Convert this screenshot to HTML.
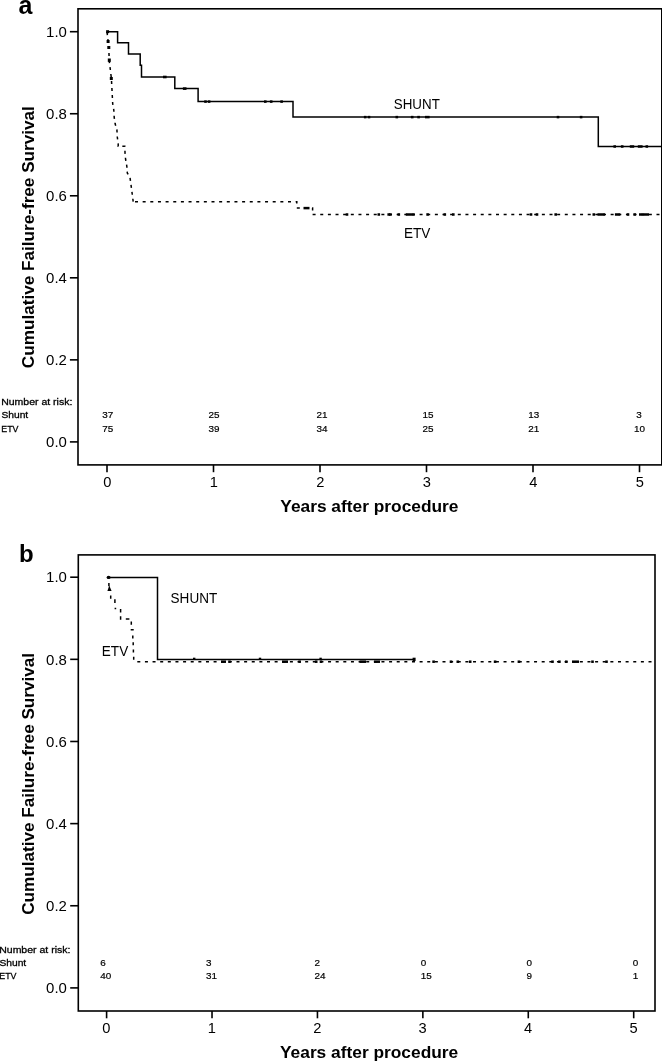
<!DOCTYPE html>
<html lang="en"><head><meta charset="utf-8"><title>Cumulative failure-free survival: shunt vs ETV</title>
<style>html,body{margin:0;padding:0;background:#fff}svg{display:block}text{font-family:'Liberation Sans', Arial, Helvetica, sans-serif;fill:#000}.b{font-weight:bold}.ln{fill:none;stroke:#000}</style>
</head><body>
<svg width="662" height="1061" viewBox="0 0 662 1061">
<rect x="0" y="0" width="662" height="1061" fill="#fff"/>
<g>
<text class="b" x="18.6" y="14.2" font-size="25">a</text>
<rect class="ln" x="78" y="8.8" width="583.8" height="456.1" stroke-width="1.6"/>
<line class="ln" x1="69.9" y1="31.7" x2="78" y2="31.7" stroke-width="1.6"/>
<text x="66.9" y="36.9" font-size="14.67" text-anchor="end" textLength="20.8" lengthAdjust="spacingAndGlyphs">1.0</text>
<line class="ln" x1="69.9" y1="113.74" x2="78" y2="113.74" stroke-width="1.6"/>
<text x="66.9" y="118.94" font-size="14.67" text-anchor="end" textLength="20.8" lengthAdjust="spacingAndGlyphs">0.8</text>
<line class="ln" x1="69.9" y1="195.78" x2="78" y2="195.78" stroke-width="1.6"/>
<text x="66.9" y="200.98" font-size="14.67" text-anchor="end" textLength="20.8" lengthAdjust="spacingAndGlyphs">0.6</text>
<line class="ln" x1="69.9" y1="277.82" x2="78" y2="277.82" stroke-width="1.6"/>
<text x="66.9" y="283.02" font-size="14.67" text-anchor="end" textLength="20.8" lengthAdjust="spacingAndGlyphs">0.4</text>
<line class="ln" x1="69.9" y1="359.86" x2="78" y2="359.86" stroke-width="1.6"/>
<text x="66.9" y="365.06" font-size="14.67" text-anchor="end" textLength="20.8" lengthAdjust="spacingAndGlyphs">0.2</text>
<line class="ln" x1="69.9" y1="441.9" x2="78" y2="441.9" stroke-width="1.6"/>
<text x="66.9" y="447.1" font-size="14.67" text-anchor="end" textLength="20.8" lengthAdjust="spacingAndGlyphs">0.0</text>
<line class="ln" x1="107" y1="464.9" x2="107" y2="472.2" stroke-width="1.6"/>
<text x="107.3" y="487.4" font-size="14.67" text-anchor="middle">0</text>
<line class="ln" x1="213.5" y1="464.9" x2="213.5" y2="472.2" stroke-width="1.6"/>
<text x="213.8" y="487.4" font-size="14.67" text-anchor="middle">1</text>
<line class="ln" x1="320" y1="464.9" x2="320" y2="472.2" stroke-width="1.6"/>
<text x="320.3" y="487.4" font-size="14.67" text-anchor="middle">2</text>
<line class="ln" x1="426.5" y1="464.9" x2="426.5" y2="472.2" stroke-width="1.6"/>
<text x="426.8" y="487.4" font-size="14.67" text-anchor="middle">3</text>
<line class="ln" x1="533" y1="464.9" x2="533" y2="472.2" stroke-width="1.6"/>
<text x="533.3" y="487.4" font-size="14.67" text-anchor="middle">4</text>
<line class="ln" x1="639.5" y1="464.9" x2="639.5" y2="472.2" stroke-width="1.6"/>
<text x="639.8" y="487.4" font-size="14.67" text-anchor="middle">5</text>
<text class="b" x="369.4" y="512.2" font-size="17.33" text-anchor="middle">Years after procedure</text>
<text class="b" transform="translate(34.3 237.15) rotate(-90)" font-size="17.15" text-anchor="middle">Cumulative Failure-free Survival</text>
<text x="1.2" y="404.8" font-size="9.7" stroke="#000" stroke-width="0.3" lengthAdjust="spacingAndGlyphs" textLength="71.2">Number at risk:</text>
<text x="1.4" y="418.3" font-size="9.7" stroke="#000" stroke-width="0.3" lengthAdjust="spacingAndGlyphs" textLength="26.8">Shunt</text>
<text x="1.3" y="431.6" font-size="9.7" stroke="#000" stroke-width="0.3" lengthAdjust="spacingAndGlyphs" textLength="17.2">ETV</text>
<text x="102.2" y="418.3" font-size="9.9" stroke="#000" stroke-width="0.2" lengthAdjust="spacingAndGlyphs" textLength="11">37</text>
<text x="102.2" y="431.6" font-size="9.9" stroke="#000" stroke-width="0.2" lengthAdjust="spacingAndGlyphs" textLength="11">75</text>
<text x="208.4" y="418.3" font-size="9.9" stroke="#000" stroke-width="0.2" lengthAdjust="spacingAndGlyphs" textLength="11">25</text>
<text x="208.4" y="431.6" font-size="9.9" stroke="#000" stroke-width="0.2" lengthAdjust="spacingAndGlyphs" textLength="11">39</text>
<text x="316.5" y="418.3" font-size="9.9" stroke="#000" stroke-width="0.2" lengthAdjust="spacingAndGlyphs" textLength="11">21</text>
<text x="316.5" y="431.6" font-size="9.9" stroke="#000" stroke-width="0.2" lengthAdjust="spacingAndGlyphs" textLength="11">34</text>
<text x="422.4" y="418.3" font-size="9.9" stroke="#000" stroke-width="0.2" lengthAdjust="spacingAndGlyphs" textLength="11">15</text>
<text x="422.4" y="431.6" font-size="9.9" stroke="#000" stroke-width="0.2" lengthAdjust="spacingAndGlyphs" textLength="11">25</text>
<text x="528.3" y="418.3" font-size="9.9" stroke="#000" stroke-width="0.2" lengthAdjust="spacingAndGlyphs" textLength="11">13</text>
<text x="528.3" y="431.6" font-size="9.9" stroke="#000" stroke-width="0.2" lengthAdjust="spacingAndGlyphs" textLength="11">21</text>
<text x="636.35" y="418.3" font-size="9.9" stroke="#000" stroke-width="0.2" lengthAdjust="spacingAndGlyphs" textLength="5.5">3</text>
<text x="634.1" y="431.6" font-size="9.9" stroke="#000" stroke-width="0.2" lengthAdjust="spacingAndGlyphs" textLength="11">10</text>
<path class="ln" d="M107 31.7 L117.6 31.7 L117.6 42.7 L128.5 42.7 L128.5 53.9 L140.2 53.9 L140.2 65.3 L141.5 65.3 L141.5 77 L174.8 77 L174.8 88.6 L198.1 88.6 L198.1 101.6 L293 101.6 L293 117.1 L598.3 117.1 L598.3 146.5 L661.5 146.5" stroke-width="1.5" stroke-linejoin="miter"/>
<rect x="106.1" y="30.2" width="3" height="3"/>
<rect x="163" y="75.7" width="3.6" height="2.6"/>
<rect x="182.9" y="87.3" width="3.6" height="2.6"/>
<rect x="204.2" y="100.35" width="2.6" height="2.5"/>
<rect x="207.8" y="100.35" width="2.6" height="2.5"/>
<rect x="264" y="100.35" width="2.6" height="2.5"/>
<rect x="269.9" y="100.35" width="2.6" height="2.5"/>
<rect x="280.3" y="100.35" width="2.6" height="2.5"/>
<rect x="363.9" y="115.85" width="2.6" height="2.5"/>
<rect x="367.7" y="115.85" width="2.6" height="2.5"/>
<rect x="395.5" y="115.85" width="2.6" height="2.5"/>
<rect x="410.9" y="115.85" width="2.6" height="2.5"/>
<rect x="417.3" y="115.85" width="2.6" height="2.5"/>
<rect x="425" y="115.85" width="4.6" height="2.5"/>
<rect x="556.7" y="115.85" width="2.6" height="2.5"/>
<rect x="579.8" y="115.85" width="2.6" height="2.5"/>
<rect x="613.4" y="145.25" width="2.6" height="2.5"/>
<rect x="620.9" y="145.25" width="2.6" height="2.5"/>
<rect x="629.8" y="145.25" width="4.4" height="2.5"/>
<rect x="637.8" y="145.25" width="4.8" height="2.5"/>
<rect x="645.5" y="145.25" width="2.6" height="2.5"/>
<path class="ln" d="M107 31.7 L108.1 41.3 L108.8 47.7 L109.2 60.4 L111.4 78.5 L112.7 103.6 L113.8 110 L114.2 117.3 L115.2 124 L116.9 129.5 L117.3 137 L118.2 144 L118.2 146.3 L124.8 146.3 L125 152.5 L125.6 159.5 L126.8 166 L127.3 173 L130 177.5 L131.7 190 L133.2 201.7" stroke-width="1.5" stroke-dasharray="3 4" stroke-dashoffset="-0.5"/>
<path class="ln" d="M135 201.7 H296.8 V208.1" stroke-width="1.5" stroke-dasharray="3 4.65"/>
<path class="ln" d="M296.8 208.1 H312.6 V214.5" stroke-width="1.5" stroke-dasharray="3 4.65"/>
<path class="ln" d="M312.6 214.5 H661" stroke-width="1.5" stroke-dasharray="3 4.642"/>
<rect x="106.6" y="40" width="3" height="3"/>
<rect x="107.3" y="46" width="3" height="3"/>
<rect x="107.8" y="58.5" width="3" height="3.4"/>
<rect x="109.8" y="77" width="3" height="3"/>
<rect x="303.5" y="206.85" width="6" height="2.5"/>
<rect x="345.7" y="213.25" width="2.6" height="2.5"/>
<rect x="377.5" y="213.25" width="2.6" height="2.5"/>
<rect x="387.4" y="213.25" width="2.6" height="2.5"/>
<rect x="389.1" y="213.25" width="2.6" height="2.5"/>
<rect x="397.5" y="213.25" width="2.6" height="2.5"/>
<rect x="405.8" y="213.25" width="8.9" height="2.5"/>
<rect x="426.3" y="213.25" width="2.6" height="2.5"/>
<rect x="443.5" y="213.25" width="2.6" height="2.5"/>
<rect x="452" y="213.25" width="2.6" height="2.5"/>
<rect x="529.7" y="213.25" width="2.6" height="2.5"/>
<rect x="535.7" y="213.25" width="2.6" height="2.5"/>
<rect x="554.4" y="213.25" width="2.6" height="2.5"/>
<rect x="592.5" y="213.25" width="2.6" height="2.5"/>
<rect x="597.5" y="213.25" width="7.5" height="2.5"/>
<rect x="614.9" y="213.25" width="5.4" height="2.5"/>
<rect x="626.7" y="213.25" width="2.6" height="2.5"/>
<rect x="633.4" y="213.25" width="2.6" height="2.5"/>
<rect x="639" y="213.25" width="10" height="2.5"/>
<text x="393.8" y="108.6" font-size="13.9" textLength="46" lengthAdjust="spacingAndGlyphs">SHUNT</text>
<text x="404" y="237.8" font-size="13.9" textLength="26.4" lengthAdjust="spacingAndGlyphs">ETV</text>
</g>
<g>
<text class="b" x="19.1" y="562.2" font-size="24">b</text>
<rect class="ln" x="78.3" y="554.9" width="576.7" height="456.1" stroke-width="1.6"/>
<line class="ln" x1="70.2" y1="577.2" x2="78.3" y2="577.2" stroke-width="1.6"/>
<text x="66.9" y="582.4" font-size="14.67" text-anchor="end" textLength="20.8" lengthAdjust="spacingAndGlyphs">1.0</text>
<line class="ln" x1="70.2" y1="659.34" x2="78.3" y2="659.34" stroke-width="1.6"/>
<text x="66.9" y="664.54" font-size="14.67" text-anchor="end" textLength="20.8" lengthAdjust="spacingAndGlyphs">0.8</text>
<line class="ln" x1="70.2" y1="741.48" x2="78.3" y2="741.48" stroke-width="1.6"/>
<text x="66.9" y="746.68" font-size="14.67" text-anchor="end" textLength="20.8" lengthAdjust="spacingAndGlyphs">0.6</text>
<line class="ln" x1="70.2" y1="823.62" x2="78.3" y2="823.62" stroke-width="1.6"/>
<text x="66.9" y="828.82" font-size="14.67" text-anchor="end" textLength="20.8" lengthAdjust="spacingAndGlyphs">0.4</text>
<line class="ln" x1="70.2" y1="905.76" x2="78.3" y2="905.76" stroke-width="1.6"/>
<text x="66.9" y="910.96" font-size="14.67" text-anchor="end" textLength="20.8" lengthAdjust="spacingAndGlyphs">0.2</text>
<line class="ln" x1="70.2" y1="987.9" x2="78.3" y2="987.9" stroke-width="1.6"/>
<text x="66.9" y="993.1" font-size="14.67" text-anchor="end" textLength="20.8" lengthAdjust="spacingAndGlyphs">0.0</text>
<line class="ln" x1="106.6" y1="1011" x2="106.6" y2="1018.3" stroke-width="1.6"/>
<text x="106.4" y="1032.8" font-size="14.67" text-anchor="middle">0</text>
<line class="ln" x1="212.02" y1="1011" x2="212.02" y2="1018.3" stroke-width="1.6"/>
<text x="211.82" y="1032.8" font-size="14.67" text-anchor="middle">1</text>
<line class="ln" x1="317.44" y1="1011" x2="317.44" y2="1018.3" stroke-width="1.6"/>
<text x="317.24" y="1032.8" font-size="14.67" text-anchor="middle">2</text>
<line class="ln" x1="422.86" y1="1011" x2="422.86" y2="1018.3" stroke-width="1.6"/>
<text x="422.66" y="1032.8" font-size="14.67" text-anchor="middle">3</text>
<line class="ln" x1="528.28" y1="1011" x2="528.28" y2="1018.3" stroke-width="1.6"/>
<text x="528.08" y="1032.8" font-size="14.67" text-anchor="middle">4</text>
<line class="ln" x1="633.7" y1="1011" x2="633.7" y2="1018.3" stroke-width="1.6"/>
<text x="633.5" y="1032.8" font-size="14.67" text-anchor="middle">5</text>
<text class="b" x="369.1" y="1058.3" font-size="17.33" text-anchor="middle">Years after procedure</text>
<text class="b" transform="translate(34.3 783.85) rotate(-90)" font-size="17.15" text-anchor="middle">Cumulative Failure-free Survival</text>
<text x="-0.8" y="953.2" font-size="9.7" stroke="#000" stroke-width="0.3" lengthAdjust="spacingAndGlyphs" textLength="71.2">Number at risk:</text>
<text x="-0.6" y="966.3" font-size="9.7" stroke="#000" stroke-width="0.3" lengthAdjust="spacingAndGlyphs" textLength="26.8">Shunt</text>
<text x="-0.7" y="978.5" font-size="9.7" stroke="#000" stroke-width="0.3" lengthAdjust="spacingAndGlyphs" textLength="17.2">ETV</text>
<text x="100.3" y="966.3" font-size="9.9" stroke="#000" stroke-width="0.2" lengthAdjust="spacingAndGlyphs" textLength="5.5">6</text>
<text x="100.3" y="978.5" font-size="9.9" stroke="#000" stroke-width="0.2" lengthAdjust="spacingAndGlyphs" textLength="11">40</text>
<text x="206.1" y="966.3" font-size="9.9" stroke="#000" stroke-width="0.2" lengthAdjust="spacingAndGlyphs" textLength="5.5">3</text>
<text x="206.1" y="978.5" font-size="9.9" stroke="#000" stroke-width="0.2" lengthAdjust="spacingAndGlyphs" textLength="11">31</text>
<text x="314.5" y="966.3" font-size="9.9" stroke="#000" stroke-width="0.2" lengthAdjust="spacingAndGlyphs" textLength="5.5">2</text>
<text x="314.5" y="978.5" font-size="9.9" stroke="#000" stroke-width="0.2" lengthAdjust="spacingAndGlyphs" textLength="11">24</text>
<text x="420.8" y="966.3" font-size="9.9" stroke="#000" stroke-width="0.2" lengthAdjust="spacingAndGlyphs" textLength="5.5">0</text>
<text x="420.8" y="978.5" font-size="9.9" stroke="#000" stroke-width="0.2" lengthAdjust="spacingAndGlyphs" textLength="11">15</text>
<text x="526.5" y="966.3" font-size="9.9" stroke="#000" stroke-width="0.2" lengthAdjust="spacingAndGlyphs" textLength="5.5">0</text>
<text x="526.5" y="978.5" font-size="9.9" stroke="#000" stroke-width="0.2" lengthAdjust="spacingAndGlyphs" textLength="5.5">9</text>
<text x="632.8" y="966.3" font-size="9.9" stroke="#000" stroke-width="0.2" lengthAdjust="spacingAndGlyphs" textLength="5.5">0</text>
<text x="632.8" y="978.5" font-size="9.9" stroke="#000" stroke-width="0.2" lengthAdjust="spacingAndGlyphs" textLength="5.5">1</text>
<path class="ln" d="M107.2 577.4 L157.5 577.4 L157.5 659.5 L414.6 659.5" stroke-width="1.5"/>
<ellipse cx="108.6" cy="577.4" rx="2" ry="1.6"/>
<rect x="193" y="657.7" width="2.4" height="2.2"/>
<rect x="258.8" y="657.7" width="2.4" height="2.2"/>
<rect x="319.4" y="657.7" width="2.4" height="2.2"/>
<rect x="412.6" y="657.7" width="3" height="3.4"/>
<path class="ln" d="M108.9 583L108.9 586.2 M110.7 595.6L110.7 598.7 M114.9 599.3L114.9 602.9 M114.6 608.5L116.2 608.5 M120.6 609L120.6 612.6 M120.6 616.2L120.6 619.7 M125.8 619L129.4 619 M131.3 621.6L131.3 624.7 M130.7 629.7L133.7 629.7 M132.8 635.5L132.8 638.5 M133.2 642.2L133.2 645.2 M133.4 649.6L133.4 652.4 M133.7 656.7L133.7 659.7" stroke-width="1.5"/>
<path class="ln" d="M137.3 661.7 H652.6" stroke-width="1.5" stroke-dasharray="3 4.63"/>
<path d="M109.3 585.4 L111.6 591 L107.4 591 Z"/>
<rect x="221" y="660.45" width="5" height="2.5"/>
<rect x="228.2" y="660.45" width="2.6" height="2.5"/>
<rect x="282" y="660.45" width="6" height="2.5"/>
<rect x="298.3" y="660.45" width="2.6" height="2.5"/>
<rect x="314.9" y="660.45" width="2.6" height="2.5"/>
<rect x="319.7" y="660.45" width="2.6" height="2.5"/>
<rect x="359.5" y="660.45" width="6.5" height="2.5"/>
<rect x="374" y="660.45" width="6" height="2.5"/>
<rect x="432.3" y="660.45" width="2.6" height="2.5"/>
<rect x="449.7" y="660.45" width="2.6" height="2.5"/>
<rect x="456.5" y="660.45" width="2.6" height="2.5"/>
<rect x="468.9" y="660.45" width="2.6" height="2.5"/>
<rect x="493.8" y="660.45" width="2.6" height="2.5"/>
<rect x="517.6" y="660.45" width="2.6" height="2.5"/>
<rect x="551.2" y="660.45" width="2.6" height="2.5"/>
<rect x="558.1" y="660.45" width="2.6" height="2.5"/>
<rect x="565" y="660.45" width="2.6" height="2.5"/>
<rect x="572" y="660.45" width="7" height="2.5"/>
<rect x="591.2" y="660.45" width="2.6" height="2.5"/>
<rect x="605.2" y="660.45" width="2.6" height="2.5"/>
<text x="170.6" y="603" font-size="13.9" textLength="46.6" lengthAdjust="spacingAndGlyphs">SHUNT</text>
<text x="101.8" y="655.7" font-size="13.9" textLength="26.4" lengthAdjust="spacingAndGlyphs">ETV</text>
</g>
</svg></body></html>
